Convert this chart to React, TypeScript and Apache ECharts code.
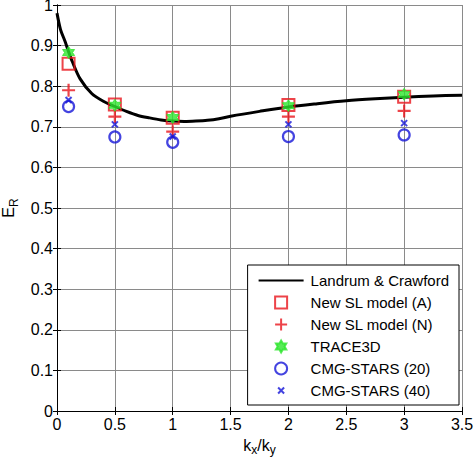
import React, { useEffect, useRef } from "react";
import * as echarts from "echarts";

// Landrum & Crawford curve
const lcX = [0, 0.03, 0.07, 0.1, 0.13, 0.2, 0.3, 0.4, 0.5, 0.6, 0.7, 0.8, 0.9, 1.0, 1.1, 1.2, 1.3, 1.4, 1.5, 1.75, 2.0, 2.25, 2.5, 2.75, 3.0, 3.25, 3.5];
const lcY = [0.98, 0.94, 0.91, 0.885, 0.862, 0.818, 0.782, 0.763, 0.75, 0.738, 0.728, 0.722, 0.717, 0.714, 0.713, 0.714, 0.716, 0.72, 0.726, 0.738, 0.749, 0.757, 0.764, 0.769, 0.773, 0.776, 0.778];

const ratios = [0.1, 0.5, 1, 2, 3];
const slA = [0.855, 0.755, 0.722, 0.754, 0.774];
const slN = [0.79, 0.725, 0.688, 0.725, 0.739];
const trace3d = [0.883, 0.753, 0.723, 0.752, 0.78];
const stars20 = [0.75, 0.675, 0.662, 0.676, 0.68];
const stars40 = [0.766, 0.706, 0.676, 0.706, 0.709];

const xTicks = [0, 0.5, 1, 1.5, 2, 2.5, 3, 3.5];
const yTicks = [0, 0.1, 0.2, 0.3, 0.4, 0.5, 0.6, 0.7, 0.8, 0.9, 1];

const FONT = "Liberation Sans, Arial, Helvetica, sans-serif";
const RED = "#e8141c";
const BLUE = "#1515d8";
const GREEN = "#2ee62e";

const squarePath = "path://M0,0 L10,0 L10,10 L0,10 Z";
const plusPath = "path://M0,6 L12,6 M6,0 L6,12";
const xPath = "path://M0,0 L10,10 M0,10 L10,0";
const xLegendPath = "path://M-5,-5 M0,0 L10,10 M0,10 L10,0 M15,15";
const hexPath =
  "path://M100,0 L128.9,50 L186.6,50 L157.7,100 L186.6,150 L128.9,150 L100,200 L71.1,150 L13.4,150 L42.3,100 L13.4,50 L71.1,50 Z";

const pairs = (ys: number[]) => ratios.map((x, i) => [x, ys[i]]);

export default function App() {
  const ref = useRef<HTMLDivElement>(null);
  useEffect(() => {
    if (!ref.current) return;
    const chart = echarts.init(ref.current, undefined, { renderer: "svg" });
    const axisLine = { show: true, lineStyle: { color: "#000", width: 1 } };
    const tick = { show: true, inside: true, length: 4, lineStyle: { color: "#000" } };
    const fmt = (v: number) => String(parseFloat(v.toFixed(2)));
    chart.setOption({
      animation: false,
      backgroundColor: "#fff",
      textStyle: { fontFamily: FONT },
      grid: { left: 57, right: 12, top: 5, bottom: 49, containLabel: false, outerBoundsMode: "none" },
      xAxis: [
        {
          type: "value",
          min: 0,
          max: 3.5,
          interval: 0.5,
          axisLine,
          axisTick: tick,
          axisLabel: { color: "#000", fontSize: 16, fontFamily: FONT, margin: 5, formatter: fmt },
          splitLine: { show: true, lineStyle: { color: "#8a8a8a", width: 1 } },
          name: "{a|k}{s|x}{a|/k}{s|y}",
          nameLocation: "middle",
          nameGap: 23,
          nameTextStyle: {
            rich: {
              a: { fontSize: 16, fontFamily: FONT, color: "#000" },
              s: { fontSize: 12, fontFamily: FONT, color: "#000", padding: [10, 0, 0, 0] },
            },
          },
        },
        {
          type: "value",
          position: "top",
          min: 0,
          max: 3.5,
          interval: 0.5,
          axisLine,
          axisTick: tick,
          axisLabel: { show: false },
          splitLine: { show: false },
        },
      ],
      yAxis: [
        {
          type: "value",
          min: 0,
          max: 1,
          interval: 0.1,
          axisLine,
          axisTick: tick,
          axisLabel: { color: "#000", fontSize: 16, fontFamily: FONT, margin: 4, formatter: fmt },
          splitLine: { show: true, lineStyle: { color: "#8a8a8a", width: 1 } },
          name: "{a|E}{s|R}",
          nameLocation: "middle",
          nameRotate: 90,
          nameGap: 37,
          nameTextStyle: {
            rich: {
              a: { fontSize: 16, fontFamily: FONT, color: "#000" },
              s: { fontSize: 12, fontFamily: FONT, color: "#000", padding: [10, 0, 0, 0] },
            },
          },
        },
        {
          type: "value",
          position: "right",
          min: 0,
          max: 1,
          interval: 0.1,
          axisLine,
          axisTick: tick,
          axisLabel: { show: false },
          splitLine: { show: false },
        },
      ],
      legend: {
        orient: "vertical",
        right: 15,
        top: 265,
        padding: [8, 10, 7, 10],
        itemWidth: 45,
        itemHeight: 12,
        itemGap: 7,
        backgroundColor: "#fff",
        borderColor: "#000",
        borderWidth: 1,
        borderRadius: 0,
        textStyle: { fontSize: 15, fontFamily: FONT, color: "#000", padding: [0, 0, 0, 2] },
        data: [
          { name: "Landrum & Crawford", itemStyle: { opacity: 0 } },
          { name: "New SL model (A)" },
          { name: "New SL model (N)" },
          { name: "TRACE3D" },
          { name: "CMG-STARS (20)" },
          { name: "CMG-STARS (40)", icon: xLegendPath },
        ],
      },
      series: [
        {
          name: "Landrum & Crawford",
          type: "line",
          data: lcX.map((x, i) => [x, lcY[i]]),
          smooth: 0.3,
          showSymbol: false,
          symbol: "none",
          lineStyle: { color: "#000", width: 3 },
          itemStyle: { color: "#000" },
          z: 2,
        },
        {
          name: "New SL model (A)",
          type: "scatter",
          data: pairs(slA),
          symbol: squarePath,
          symbolSize: 12,
          itemStyle: { color: "rgba(255,255,255,0)", borderColor: RED, borderWidth: 2 },
          z: 3,
        },
        {
          name: "New SL model (N)",
          type: "scatter",
          data: pairs(slN),
          symbol: plusPath,
          symbolSize: 13,
          itemStyle: { color: "rgba(255,255,255,0)", borderColor: RED, borderWidth: 2.2 },
          z: 3,
        },
        {
          name: "TRACE3D",
          type: "scatter",
          data: pairs(trace3d),
          symbol: hexPath,
          symbolSize: 12,
          itemStyle: { color: GREEN, borderColor: GREEN, borderWidth: 1 },
          z: 4,
        },
        {
          name: "CMG-STARS (20)",
          type: "scatter",
          data: pairs(stars20),
          symbol: "circle",
          symbolSize: 11,
          itemStyle: { color: "rgba(255,255,255,0)", borderColor: BLUE, borderWidth: 2.2 },
          z: 3,
        },
        {
          name: "CMG-STARS (40)",
          type: "scatter",
          data: pairs(stars40),
          symbol: xPath,
          symbolSize: 6,
          itemStyle: { color: "rgba(255,255,255,0)", borderColor: BLUE, borderWidth: 2 },
          z: 3,
        },
      ],
    });
    return () => chart.dispose();
  }, []);
  return <div ref={ref} style={{ width: 474, height: 460, position: "absolute", left: 0, top: 0 }} />;
}
